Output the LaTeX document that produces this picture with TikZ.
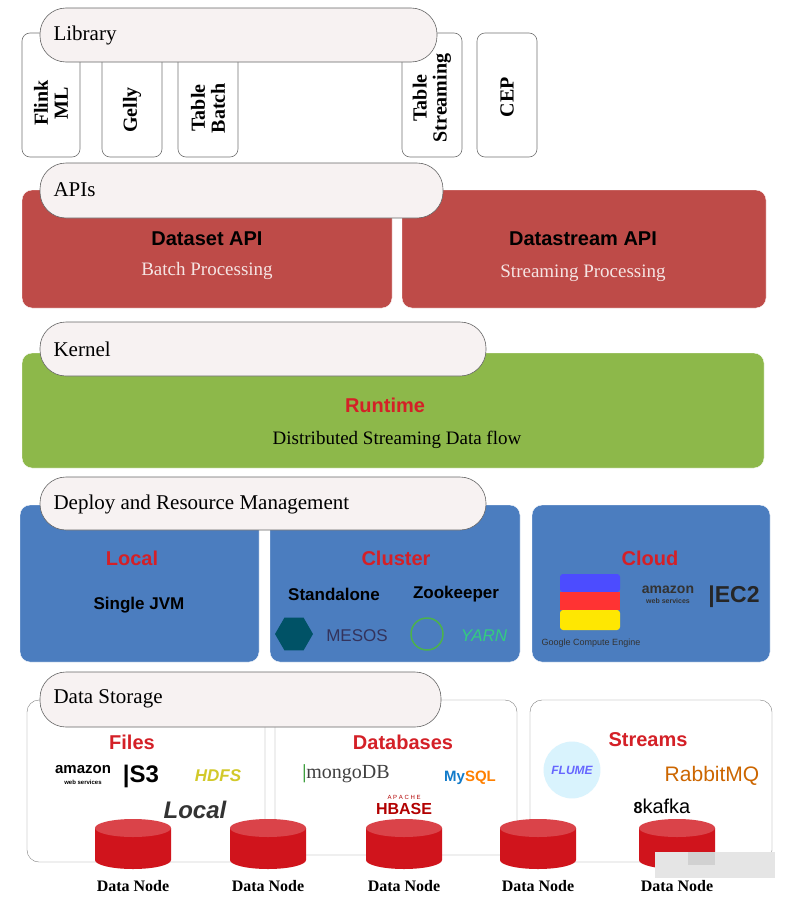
\documentclass[tikz,border=0pt]{standalone}
\usepackage{fontspec}
\setmainfont{Liberation Serif}
\newfontfamily\ssf{Liberation Sans}
\usetikzlibrary{shapes.geometric}
\definecolor{pillc}{HTML}{F7F2F2}
\definecolor{redb}{HTML}{BE4B48}
\definecolor{greenb}{HTML}{8DB84A}
\definecolor{blueb}{HTML}{4B7DBF}
\definecolor{hd}{HTML}{D42027}
\definecolor{cyl}{HTML}{D0141C}
\tikzset{
 pill/.style={draw=black!60,fill=pillc,rounded corners=26pt,line width=0.6pt},
 lib/.style={draw=black!55,fill=white,rounded corners=8pt,line width=0.6pt},
 layer/.style={draw=white,rounded corners=10pt},
 plab/.style={anchor=west,font=\fontsize{21}{22}\selectfont},
 vlab/.style={rotate=90,font=\bfseries\fontsize{20}{20}\selectfont,align=center},
 htit/.style={font=\ssf\bfseries\fontsize{20}{20}\selectfont},
 sub/.style={font=\fontsize{19}{19}\selectfont},
 red/.style={htit,text=hd},
 logo/.style={font=\ssf\bfseries\fontsize{17}{17}\selectfont},
 dn/.style={font=\bfseries\fontsize{16}{16}\selectfont}
}
\begin{document}
\begin{tikzpicture}[x=1pt,y=-1pt]
\useasboundingbox[fill=white] (0,0) rectangle (800,902);
% Library
\node[lib,minimum width=58pt,minimum height=124pt] (fml) at (51,95) {};
\node[vlab] (fmlt) at (51,103) {Flink\\ML};
\node[lib,minimum width=60pt,minimum height=124pt] (gel) at (132,95) {};
\node[vlab] (gelt) at (132,110) {Gelly};
\node[lib,minimum width=60pt,minimum height=124pt] (tb) at (208,95) {};
\node[vlab] (tbt) at (208,108) {Table\\Batch};
\node[lib,minimum width=60pt,minimum height=124pt] (ts) at (432,95) {};
\node[vlab] (tst) at (432,98) {Table\\Streaming};
\node[lib,minimum width=60pt,minimum height=124pt] (cep) at (507,95) {};
\node[vlab] (cept) at (507,97) {CEP};
\draw[pill] (40,8) rectangle (437,62);
\node[plab] (libl) at (50,35) {Library};
% APIs
\draw[layer,fill=redb] (22,190) rectangle (392,308);
\draw[layer,fill=redb] (402,190) rectangle (766,308);
\draw[pill] (40,163) rectangle (443,218);
\node[plab] (apil) at (50,190) {APIs};
\node[htit] (ds) at (207,239) {Dataset API};
\node[sub,text=white!85!redb] (bp) at (207,271) {Batch Processing};
\node[htit] (dst) at (583,239) {Datastream API};
\node[sub,text=white!85!redb] (sp) at (583,273) {Streaming Processing};
% Kernel
\draw[layer,fill=greenb] (22,353) rectangle (764,468);
\draw[pill] (40,322) rectangle (486,376);
\node[plab] (kl) at (50,349) {Kernel};
\node[red] (rt) at (385,405) {Runtime};
\node[sub] (dsd) at (397,440) {Distributed Streaming Data flow};
% Deploy
\draw[layer,fill=blueb] (20,505) rectangle (259,662);
\draw[layer,fill=blueb] (270,505) rectangle (520,662);
\draw[layer,fill=blueb] (532,505) rectangle (770,662);
\draw[pill] (40,477) rectangle (486,530);
\node[plab] (dl) at (50,504) {Deploy and Resource Management};
\node[red] (loc) at (132,558) {Local};
\node[logo] (jvm) at (139,605) {Single JVM};
\node[red] (clu) at (396,558) {Cluster};
\node[logo] (sa) at (334,594) {Standalone};
\node[logo] (zk) at (456,594) {Zookeeper};
\node[regular polygon,regular polygon sides=6,fill=blue!20!cyan!40!black,minimum size=38pt] (mh) at (294,634) {};
\node[font=\ssf\fontsize{17}{17}\selectfont,text=blue!20!black!80] (mes) at (357,636) {MESOS};
\node[circle,draw=green!40!gray,line width=1.5pt,minimum size=32pt] (yh) at (427,634) {};
\node[font=\ssf\itshape\fontsize{17}{17}\selectfont,text=green!50!cyan!60!gray] (yarn) at (484,636) {YARN};
\node[red] (cl) at (650,558) {Cloud};
\draw[fill=blue!70,draw=none,rounded corners=3pt] (560,574) rectangle (620,592);
\draw[fill=red!80,draw=none] (560,592) rectangle (620,610);
\draw[fill=yellow!90!orange,draw=none,rounded corners=3pt] (560,610) rectangle (620,630);
\node[font=\ssf\fontsize{9}{9}\selectfont,text=black!80] (gce) at (591,643) {Google Compute Engine};
\node[font=\ssf\bfseries\fontsize{14}{14}\selectfont,align=center,text=black!80] (amz) at (668,595) {amazon\\[-4pt]{\fontsize{7}{7}\selectfont web services}};
\node[font=\ssf\bfseries\fontsize{23}{23}\selectfont,text=black!85] (ec2) at (734,597) {|EC2};
% Data storage
\draw[draw=black!50,rounded corners=12pt,fill=white] (27,700) rectangle (265,862);
\draw[draw=black!50,rounded corners=12pt,fill=white] (275,700) rectangle (517,855);
\draw[draw=black!50,rounded corners=12pt,fill=white] (530,700) rectangle (772,862);
\draw[pill] (40,672) rectangle (441,727);
\node[plab] (dsl) at (50,699) {Data Storage};
\node[red] (fi) at (132,742) {Files};
\node[red] (dbs) at (403,742) {Databases};
\node[red] (st) at (648,740) {Streams};
\node[font=\ssf\bfseries\fontsize{15}{15}\selectfont,align=center,text=black] (amz2) at (83,775) {amazon\\[-4pt]{\fontsize{6}{6}\selectfont web services}};
\node[font=\ssf\bfseries\fontsize{24}{24}\selectfont] (s3) at (141,776) {|S3};
\node[font=\ssf\bfseries\itshape\fontsize{17}{17}\selectfont,text=yellow!80!black] (hdfs) at (218,776) {HDFS};
\node[font=\ssf\bfseries\itshape\fontsize{24}{24}\selectfont,text=black!80] (lcl) at (195,810) {Local};
\node[font=\fontsize{20}{20}\selectfont,text=black!75] (mdb) at (346,774) {\textcolor{green!50!black}{|}mongoDB};
\node[font=\ssf\bfseries\fontsize{15}{15}\selectfont,text=cyan!60!blue] (mys) at (470,778) {My\textcolor{orange}{SQL}};
\node[font=\ssf\fontsize{6}{6}\selectfont,text=red!70!black] (ap) at (404,797) {A P A C H E};
\node[font=\ssf\bfseries\fontsize{16}{16}\selectfont,text=red!70!black] (hb) at (404,809) {HBASE};
\node[font=\ssf\bfseries\itshape\fontsize{12}{12}\selectfont,text=blue!60,circle,fill=cyan!15,inner sep=6pt] (flm) at (572,770) {FLUME};
\node[font=\ssf\fontsize{21}{21}\selectfont,text=orange!80!black] (rmq) at (712,776) {RabbitMQ};
\node[font=\ssf\fontsize{20}{20}\selectfont] (kfk) at (662,806) {\textbf{\fontsize{16}{16}\selectfont 8}kafka};
% cylinders
\foreach \n/\x in {a/133,b/268,c/404,d/538,e/677}{
 \fill[cyl] (\x-38,828) -- (\x-38,860) arc[start angle=180,end angle=0,x radius=38,y radius=9] -- (\x+38,828) -- cycle;
 \fill[cyl!80!white] (\x,828) ellipse[x radius=38,y radius=9];
 \coordinate (cy\n) at (\x,845);
 \node[dn] (dn\n) at (\x,886) {Data Node};
}
\fill[black!10] (655,852) rectangle (775,878);
\fill[black!18] (688,852) rectangle (715,865);
\end{tikzpicture}
\end{document}
